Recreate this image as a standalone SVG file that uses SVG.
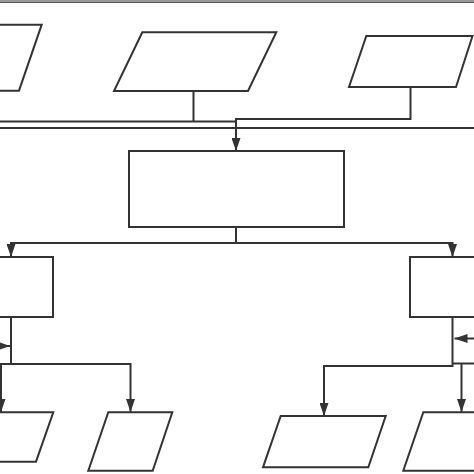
<svg xmlns="http://www.w3.org/2000/svg" width="474" height="474" viewBox="0 0 474 474">
<style>
.s{fill:#fff;stroke:#333;stroke-width:2;stroke-linejoin:miter}
.c{fill:none;stroke:#333;stroke-width:2}
</style>
<defs>
<marker id="a" viewBox="0 0 13 9" refX="13" refY="4.5" markerWidth="13" markerHeight="9" markerUnits="userSpaceOnUse" orient="auto">
<path d="M0,0 L13,4.5 L0,9 z" fill="#333"/>
</marker>
</defs>
<rect x="0" y="0" width="474" height="474" fill="#fff"/>
<rect x="0" y="0" width="474" height="2" fill="#9a9a9a"/>
<line x1="0" y1="2.5" x2="474" y2="2.5" stroke="#555" stroke-width="1"/>
<g id="connectors">
<path class="c" d="M193.5,91 V121.5"/>
<path class="c" d="M0,121.5 H236"/>
<path class="c" d="M410.5,87 V119 H236 V151" marker-end="url(#a)"/>
<path class="c" d="M0,128 H474"/>
<path class="c" d="M236,227 V243"/>
<path class="c" d="M236,243 H11 V257" marker-end="url(#a)"/>
<path class="c" d="M236,243 H452.5 V257" marker-end="url(#a)"/>
<path class="c" d="M11,317 V364 H130.5 V412" marker-end="url(#a)"/>
<path class="c" d="M11,364 H1 V412" marker-end="url(#a)"/>
<path class="c" d="M-10,346 H10" marker-end="url(#a)"/>
<path class="c" d="M452.5,317 V366 H324 V416" marker-end="url(#a)"/>
<path class="c" d="M452.5,363.5 H474"/>
<path class="c" d="M461.5,363.5 V412" marker-end="url(#a)"/>
<path class="c" d="M480,338.5 H454.5" marker-end="url(#a)"/>
</g>
<g id="input-top-left"><polygon class="s" points="-50,24.7 41.7,24.7 19,90.7 -80,90.7"/></g>
<g id="input-top-middle"><polygon class="s" points="142.3,32.3 276.3,32.3 248,91 114,91"/></g>
<g id="input-top-right"><polygon class="s" points="366.3,36 472.5,36 456,87 349,87"/></g>
<g id="process-center"><rect class="s" x="129" y="151" width="215" height="76"/></g>
<g id="process-left"><rect class="s" x="-20" y="257" width="73" height="60"/></g>
<g id="process-right"><rect class="s" x="410" y="257" width="80" height="60"/></g>
<g id="output-bottom-left-1"><polygon class="s" points="-30,412.3 53.3,412.3 36,461.7 -47,461.7"/></g>
<g id="output-bottom-left-2"><polygon class="s" points="108.3,412.3 172.3,412.3 152.7,470.7 88.3,470.7"/></g>
<g id="output-bottom-right-1"><polygon class="s" points="280.7,416 385.7,416 368.3,467.3 263,467.3"/></g>
<g id="output-bottom-right-2"><polygon class="s" points="423.3,412.3 540,412.3 520,470.7 403.3,470.7"/></g>
</svg>
